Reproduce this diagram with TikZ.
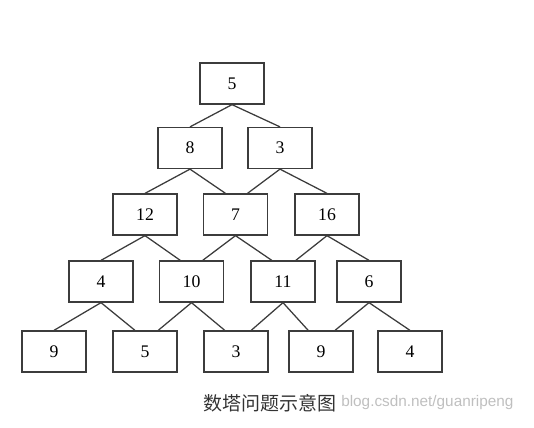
\documentclass[tikz,border=0pt]{standalone}
\usepackage{fontspec}
\setmainfont{Liberation Serif}
\newfontfamily\cjk{Noto Sans CJK SC}
\newfontfamily\wmfont{Liberation Sans}
\usepackage{tikz}
\usetikzlibrary{positioning}
\usepackage{xcolor}
\definecolor{tline}{RGB}{60,60,60}
\tikzstyle{cell} = [rectangle, minimum width=1.6cm, minimum height=1.025cm, inner sep=0pt, text centered, draw=tline, line width=0.9pt, font=\fontsize{12.6}{14}\selectfont]
\tikzstyle{link} = [line width=0.9pt, color=tline]

\begin{document}
\begin{tikzpicture}[x=0.025cm, y=-0.025cm]
\useasboundingbox (0,0) rectangle (534,428);
% Row 1
\node[cell] (a1) at (232,83.5) {5};
% Row 2
\node[cell] (b1) at (190,148) {8};
\node[cell] (b2) at (280,148) {3};
% Row 3
\node[cell] (c1) at (145,214.5) {12};
\node[cell] (c2) at (235.5,214.5) {7};
\node[cell] (c3) at (327,214.5) {16};
% Row 4
\node[cell] (d1) at (101,281.5) {4};
\node[cell] (d2) at (191.5,281.5) {10};
\node[cell] (d3) at (283,281.5) {11};
\node[cell] (d4) at (369,281.5) {6};
% Row 5
\node[cell] (e1) at (54,351.5) {9};
\node[cell] (e2) at (145,351.5) {5};
\node[cell] (e3) at (236,351.5) {3};
\node[cell] (e4) at (321,351.5) {9};
\node[cell] (e5) at (410,351.5) {4};

% Links
\draw[link] (a1.south) -- (b1.north);
\draw[link] (a1.south) -- (b2.north);
\draw[link] (b1.south) -- (c1.north);
\draw[link] (b1.south) -- ([xshift=-0.25cm]c2.north);
\draw[link] (b2.south) -- ([xshift=0.3cm]c2.north);
\draw[link] (b2.south) -- (c3.north);
\draw[link] (c1.south) -- (d1.north);
\draw[link] (c1.south) -- ([xshift=-0.28cm]d2.north);
\draw[link] (c2.south) -- ([xshift=0.28cm]d2.north);
\draw[link] (c2.south) -- ([xshift=-0.28cm]d3.north);
\draw[link] (c3.south) -- ([xshift=0.32cm]d3.north);
\draw[link] (c3.south) -- (d4.north);
\draw[link] (d1.south) -- (e1.north);
\draw[link] (d1.south) -- ([xshift=-0.25cm]e2.north);
\draw[link] (d2.south) -- ([xshift=0.33cm]e2.north);
\draw[link] (d2.south) -- ([xshift=-0.28cm]e3.north);
\draw[link] (d3.south) -- ([xshift=0.38cm]e3.north);
\draw[link] (d3.south) -- ([xshift=-0.32cm]e4.north);
\draw[link] (d4.south) -- ([xshift=0.35cm]e4.north);
\draw[link] (d4.south) -- (e5.north);

% Caption
\node[font=\cjk\fontsize{13.5}{15}\selectfont, text=black!80] (cap) at (270,403) {数塔问题示意图};
\node[font=\wmfont\fontsize{10.9}{12}\selectfont, text=black!25, anchor=west, inner sep=0pt] (wm) at (341,403) {blog.csdn.net/guanripeng};
\end{tikzpicture}
\end{document}
